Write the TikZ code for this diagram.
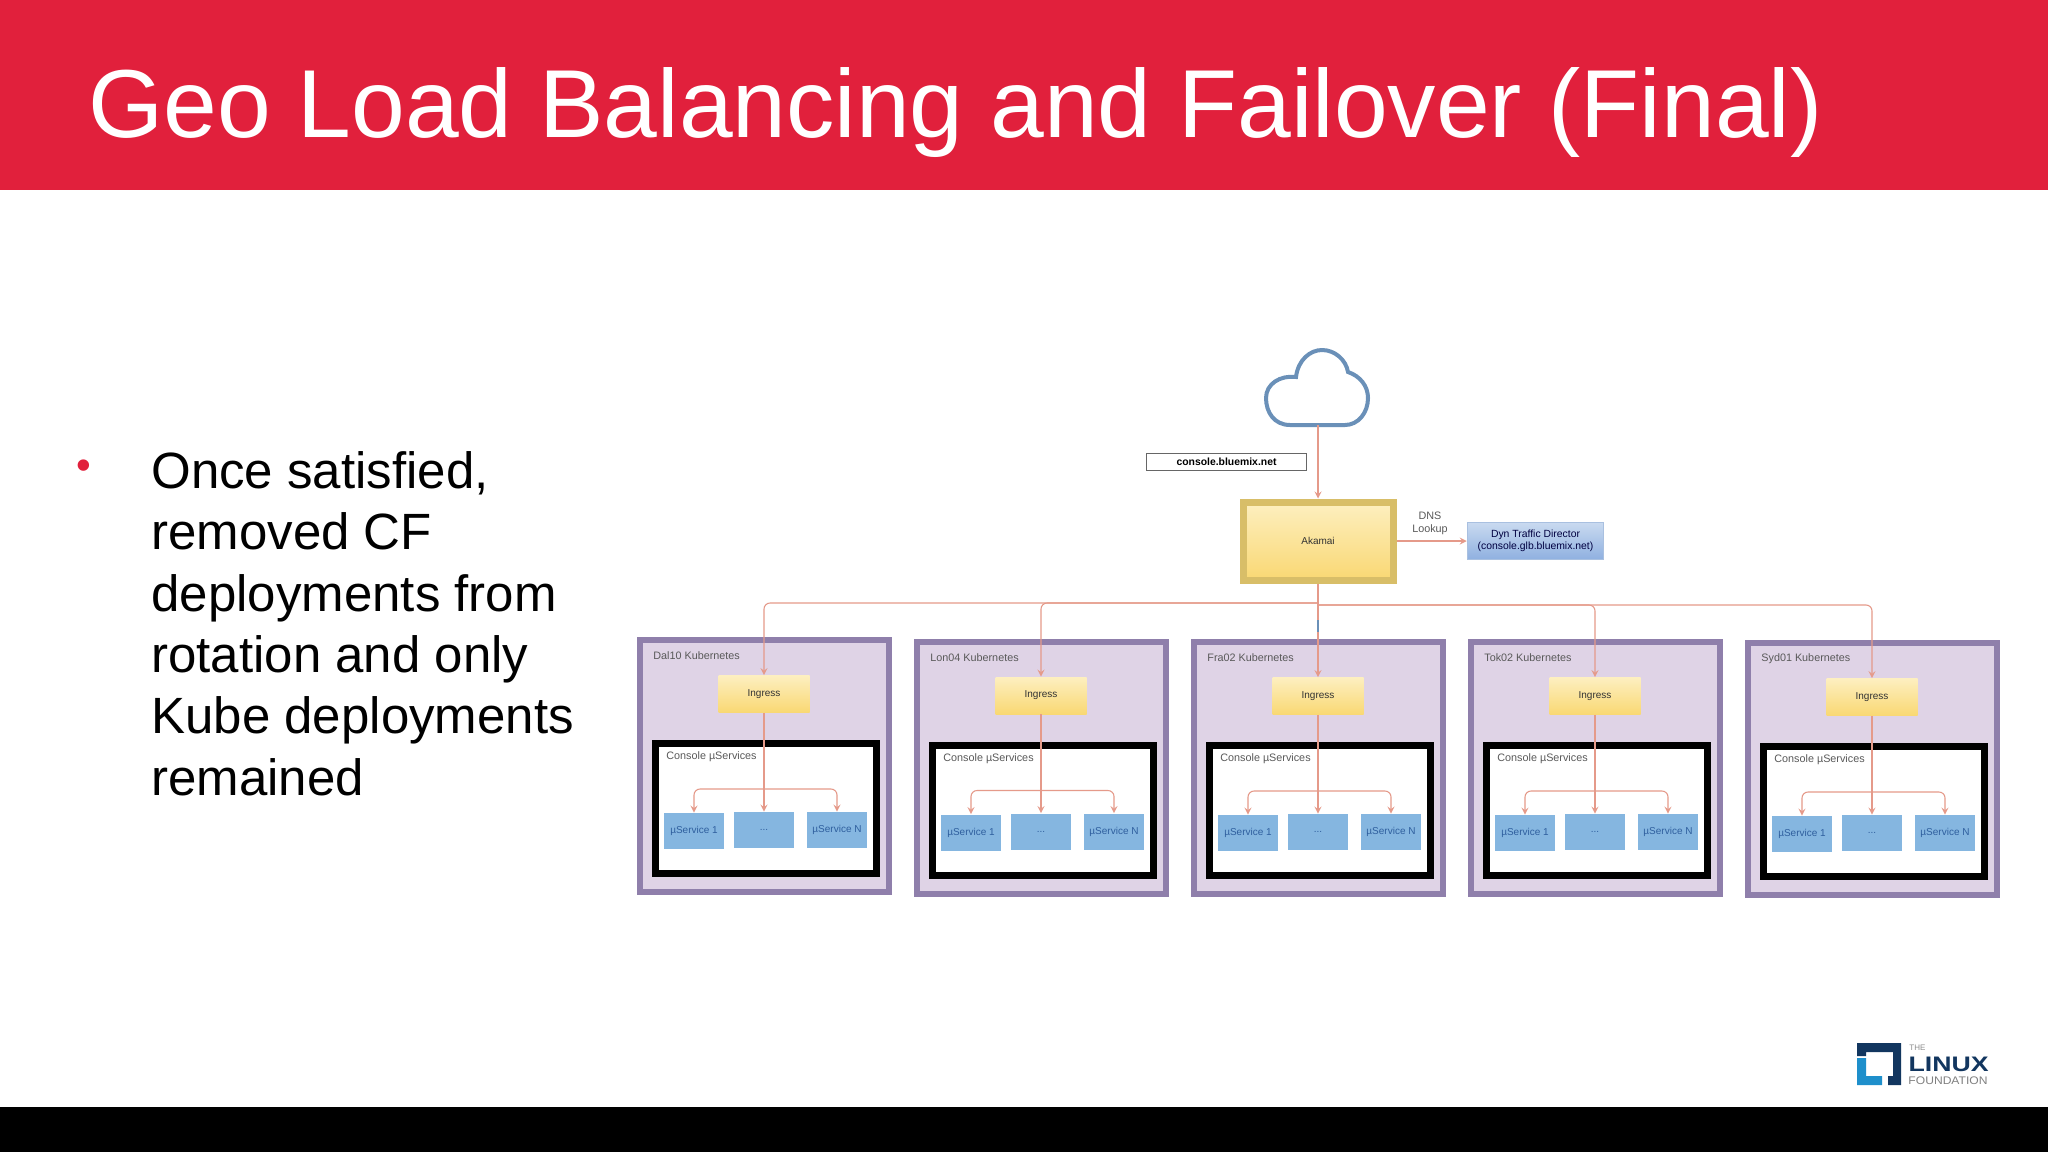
\documentclass[tikz,border=0pt]{standalone}
\usepackage{fontspec}
\setmainfont{Liberation Sans}
\usetikzlibrary{calc}
\usepackage{xcolor}
\definecolor{slidered}{HTML}{E1203C}
\definecolor{linkred}{HTML}{E59A8A}
\definecolor{kubefill}{HTML}{DFD3E6}
\definecolor{kubeline}{HTML}{8F7FAB}
\definecolor{svcblue}{HTML}{85B6E0}
\definecolor{svctext}{HTML}{2F5F9E}
\definecolor{cloudline}{HTML}{6A90B8}
\definecolor{goldline}{HTML}{D8BE68}
\definecolor{goldtop}{HTML}{FDEFC0}
\definecolor{goldbottom}{HTML}{F9D873}
\definecolor{dynline}{HTML}{A9C0E0}
\definecolor{dyntop}{HTML}{C9DAF0}
\definecolor{dynbottom}{HTML}{8FB0E0}
\definecolor{lfnavy}{HTML}{12365F}
\definecolor{lfblue}{HTML}{1E8FCB}
\tikzset{
	link/.style = {linkred, line width=.55pt, -stealth},
	smalltext/.style = {text=black!65, font=\fontsize{5.4}{6.5}\selectfont, inner sep=0},
	kubebox/.style = {draw=kubeline, fill=kubefill, line width=3pt, minimum width=124.5pt, minimum height=126pt},
	ingressbox/.style = {top color=goldtop, bottom color=goldbottom, minimum width=45.5pt, minimum height=18.5pt, inner sep=0, text=black!80, font=\fontsize{5}{6}\selectfont},
	consolebox/.style = {draw=black, fill=white, line width=3.5pt, minimum width=110.5pt, minimum height=65pt},
	svcbox/.style = {fill=svcblue, text=svctext, minimum width=30pt, minimum height=18pt, inner sep=0, font=\fontsize{5}{6}\selectfont},
}

\begin{document}
\begin{tikzpicture}[x=0.5pt, y=-0.5pt]
	\useasboundingbox (0,0) rectangle (2048,1152);
	\fill [white] (0,0) rectangle (2048,1152);
	\fill [slidered] (0,0) rectangle (2048,190);
	\fill [black] (0,1107) rectangle (2048,1152);

	\node (title) [anchor=base west, inner sep=0, text=white, font=\fontsize{48.3}{50}\selectfont] at (88,137) {Geo Load Balancing and Failover (Final)};
	\node (bullet) [text=slidered, inner sep=0, font=\fontsize{21}{25}\selectfont] at (84,470) {•};
	\node (body) [anchor=north west, inner sep=0, align=left, font=\fontsize{25.5}{30.7}\selectfont] at (151,451) {Once satisfied,\\removed CF\\deployments from\\rotation and only\\Kube deployments\\remained};

	% cloud and top of the flow
	\draw [cloudline, fill=white, line width=2pt] (1290,425) .. controls (1274,425) and (1266,412) .. (1266,398) .. controls (1266,384) and (1280,375) .. (1296,377) .. controls (1298,360) and (1310,350) .. (1322,350) .. controls (1335,350) and (1346,360) .. (1348,372) .. controls (1360,376) and (1368,386) .. (1368,398) .. controls (1368,413) and (1358,425) .. (1345,425) -- cycle;
	\coordinate (cloudbase) at (1318,425);

	\node (urlbox) [draw=black!60, line width=.8pt, minimum width=80pt, minimum height=8.5pt, inner sep=0, font=\bfseries\fontsize{5.2}{6}\selectfont] at (1226.5,462) {console.bluemix.net};
	\node (akamai) [draw=goldline, top color=goldtop, bottom color=goldbottom, line width=3.5pt, minimum width=75pt, minimum height=39pt, inner sep=0, text=black!80, font=\fontsize{5}{6}\selectfont] at (1318,541) {Akamai};
	\node (dyn) [draw=dynline, top color=dyntop, bottom color=dynbottom, line width=.8pt, minimum width=68pt, minimum height=18.5pt, inner sep=0, align=center, text=black!75!blue, font=\fontsize{5.2}{6}\selectfont] at (1535.5,541) {Dyn Traffic Director\\(console.glb.bluemix.net)};
	\node (dns) [smalltext, align=center] at (1430,523) {DNS\\Lookup};

	\draw [link] (cloudbase) -- (akamai.north);
	\draw [link] (akamai.east) -- (dyn.west);

	\coordinate (busleft) at (1318,603);
	\coordinate (busright) at (1318,605);

	\foreach \i/\cx/\dy/\site in {1/764/0/Dal10, 2/1041/1.5/Lon04, 3/1318/2/Fra02, 4/1595/2/Tok02, 5/1872/3/Syd01} {
		\node (kube\i) [kubebox] at (\cx,\dy+766) {};
		\node (kubename\i) [smalltext, anchor=west] at (\cx-111,\dy+656) {\site{} Kubernetes};
		\node (console\i) [consolebox] at (\cx+2,\dy+808.5) {};
		\node (consolename\i) [smalltext, anchor=west] at (\cx-98,\dy+757) {Console µServices};
		\node (ingress\i) [ingressbox] at (\cx,\dy+694) {Ingress};
		\node (svca\i) [svcbox] at (\cx-70,\dy+831) {µService 1};
		\node (svcb\i) [svcbox] at (\cx,\dy+830) {...};
		\node (svcc\i) [svcbox] at (\cx+73,\dy+830) {µService N};
		\coordinate (fork\i) at (\cx,\dy+789);

		\draw [link] (ingress\i.south) -- (svcb\i.north);
		\draw [link, rounded corners=3pt] (fork\i) -| (svca\i.north);
		\draw [link, rounded corners=3pt] (fork\i) -| (svcc\i.north);
	}

	\draw [link] (akamai.south) -- (ingress3.north);
	\draw [link, rounded corners=3pt] (busleft) -| (ingress1.north);
	\draw [link, rounded corners=3pt] (busleft) -| (ingress2.north);
	\draw [link, rounded corners=3pt] (busright) -| (ingress4.north);
	\draw [link, rounded corners=3pt] (busright) -| (ingress5.north);
	\draw [cloudline, line width=1pt] (1318,620) -- (1318,632);

	% logo
	\fill [lfnavy] (1857,1043) -- (1901,1043) -- (1901,1085) -- (1888,1085) -- (1888,1076) -- (1893,1076) -- (1893,1052) -- (1866,1052) -- (1866,1056) -- (1857,1056) -- cycle;
	\fill [lfblue] (1857,1058) -- (1866,1058) -- (1866,1076) -- (1882,1076) -- (1882,1085) -- (1857,1085) -- cycle;
	\node (logothe) [anchor=west, inner sep=0, text=black!45, font=\fontsize{4}{5}\selectfont] at (1909,1048) {THE};
	\node (logolinux) [anchor=west, inner sep=0, xscale=1.27, text=lfnavy, font=\bfseries\fontsize{10.5}{12}\selectfont] at (1908,1064.5) {LINUX};
	\node (logofound) [anchor=west, inner sep=0, xscale=1.1, text=black!50, font=\fontsize{5.5}{6}\selectfont] at (1908,1081) {FOUNDATION};
\end{tikzpicture}
\end{document}
